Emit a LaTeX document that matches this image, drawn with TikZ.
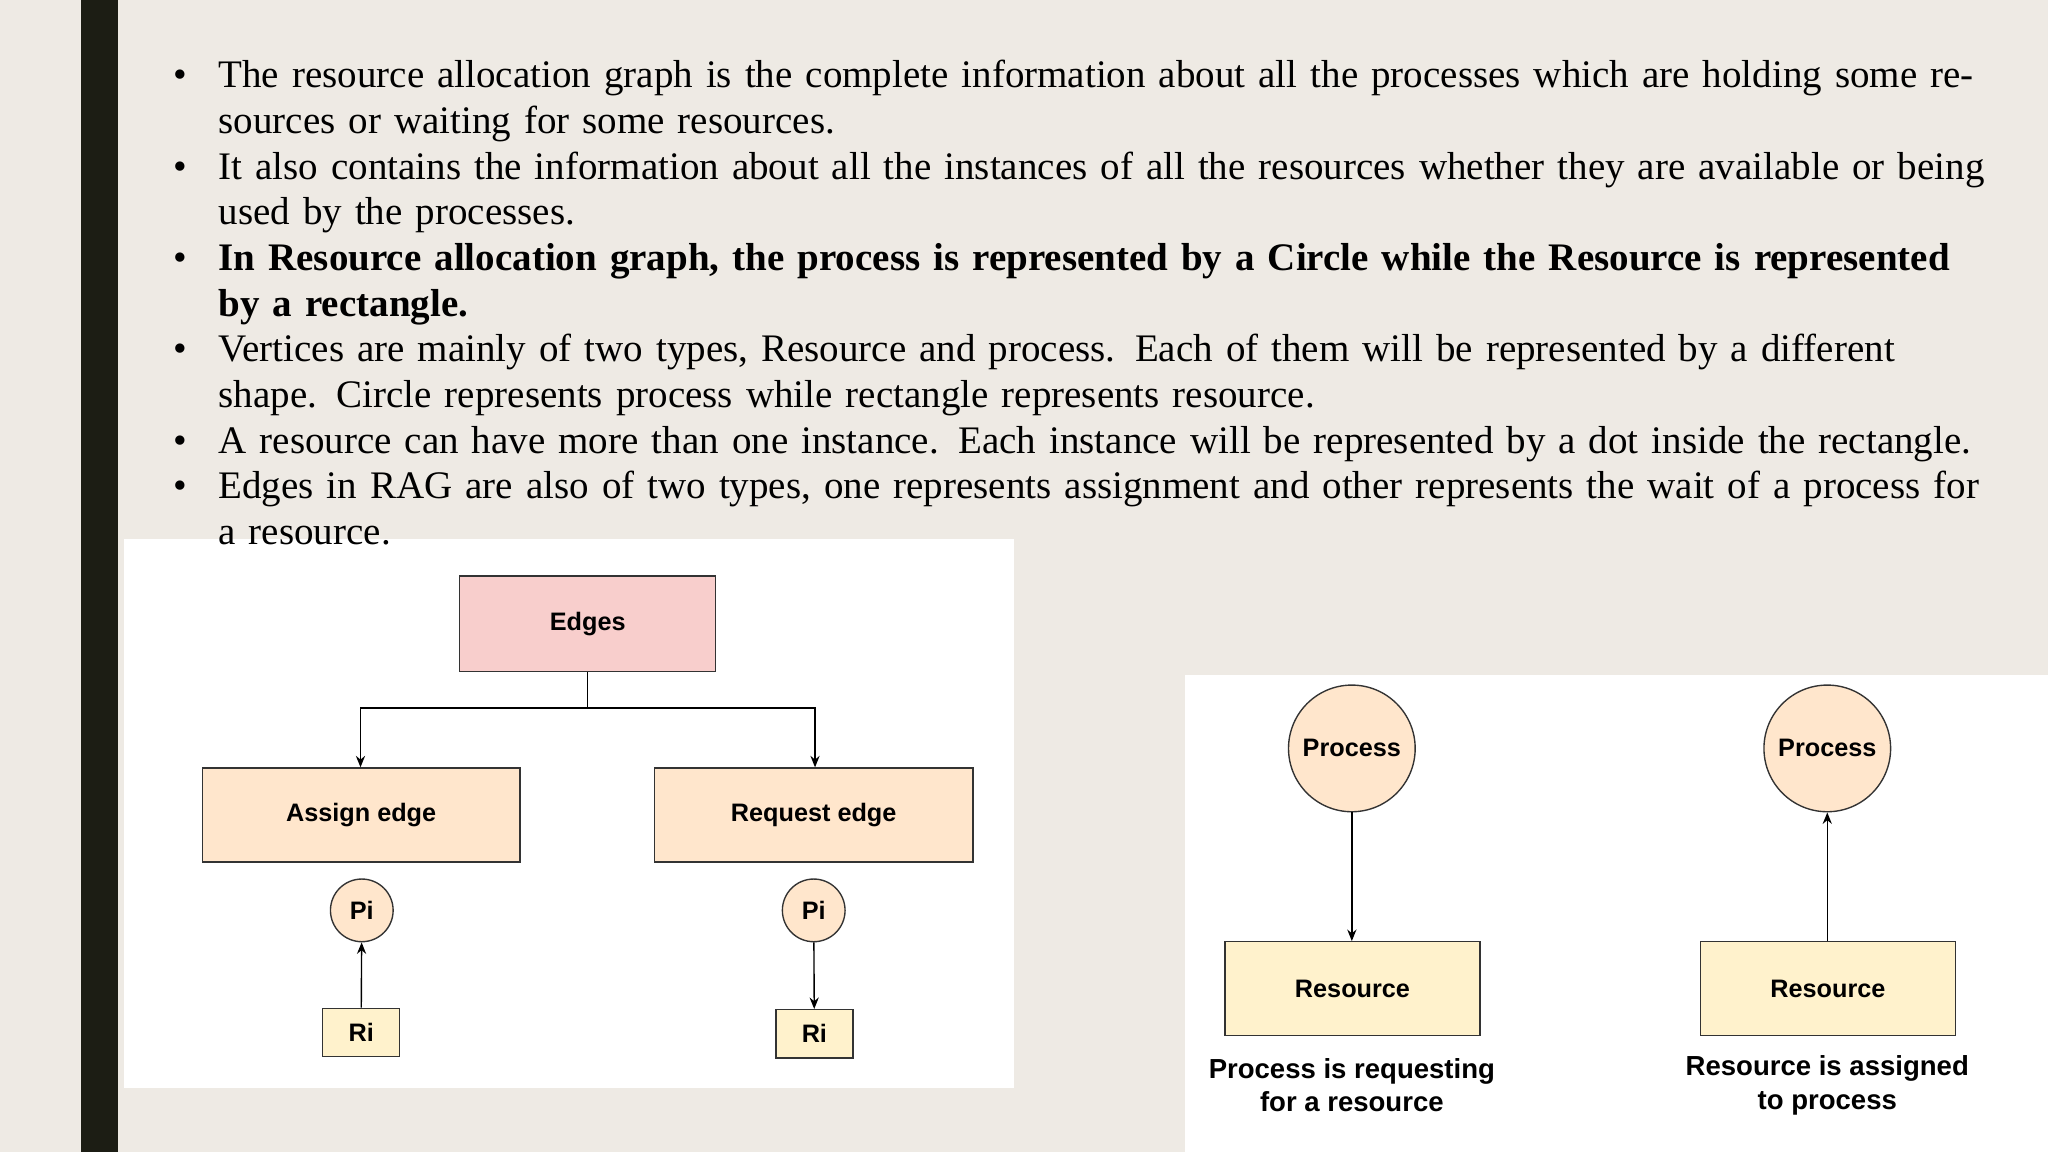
\documentclass[tikz,border=0pt]{standalone}
\usepackage{fontspec}
\setmainfont{Liberation Serif}
\setsansfont{Liberation Sans}
\usetikzlibrary{arrows.meta}
\definecolor{bg}{HTML}{EEEAE4}
\definecolor{bar}{HTML}{1C1D14}
\definecolor{pink}{HTML}{F8CECC}
\definecolor{peach}{HTML}{FFE6CC}
\definecolor{cream}{HTML}{FFF2CC}
\tikzset{
 box/.style={draw=black!80,line width=0.6pt,font=\sffamily\fontsize{11}{13}\selectfont\bfseries},
 circ/.style={circle,draw=black!80,line width=0.6pt,fill=peach,font=\sffamily\fontsize{11}{13}\selectfont\bfseries,inner sep=0pt},
 arr/.style={-{Stealth[length=5pt,width=4pt]},line width=0.6pt},
 captext/.style={font=\sffamily\fontsize{12}{14.5}\selectfont\bfseries,align=center}
}
\begin{document}
\begin{tikzpicture}[x=0.02cm,y=-0.02cm]
\fill[bg] (0,0) rectangle (1568,882);
\useasboundingbox (0,0) rectangle (1568,882);
\fill[bar] (62,0) rectangle (90,882);
\fill[white] (95,413) rectangle (776,833);
\fill[white] (907,517) rectangle (1568,882);
\node[anchor=north west,text width=28.06cm,inner sep=0pt,font=\fontsize{17}{19.9}\selectfont] (txt) at (130,32) {%
\def\bl{\par\noindent\hangindent=0.74cm\hangafter=1\makebox[0.74cm][l]{\kern0.05cm•}}%
\bl The resource allocation graph is the complete information about all the processes which are holding some resources or waiting for some resources.
\bl It also contains the information about all the instances of all the resources whether they are available or being used by the processes.
\bl \textbf{In Resource allocation graph, the process is represented by a Circle while the Resource is represented by a rectangle.}
\bl Vertices are mainly of two types, Resource and process. Each of them will be represented by a different shape. Circle represents process while rectangle represents resource.
\bl A resource can have more than one instance. Each instance will be represented by a dot inside the rectangle.
\bl Edges in RAG are also of two types, one represents assignment and other represents the wait of a process for a resource.\par};
% left diagram
\node[box,fill=pink,minimum width=3.92cm,minimum height=1.46cm] (edges) at (450,477.5) {Edges};
\node[box,fill=peach,minimum width=4.86cm,minimum height=1.44cm] (assign) at (276.5,624) {Assign edge};
\node[box,fill=peach,minimum width=4.88cm,minimum height=1.44cm] (request) at (623,624) {Request edge};
\node[circ,minimum size=0.96cm] (pi1) at (277,697) {Pi};
\node[circ,minimum size=0.96cm] (pi2) at (623,697) {Pi};
\node[box,fill=cream,minimum width=1.18cm,minimum height=0.74cm] (ri1) at (276.5,790.5) {Ri};
\node[box,fill=cream,minimum width=1.18cm,minimum height=0.74cm] (ri2) at (623.5,791.5) {Ri};
\coordinate (j) at (450,542);
\draw[line width=0.6pt] (edges.south) -- (j);
\draw[arr] (j) -| (assign.north -| 276,0);
\draw[arr] (j) -| (request.north -| 624,0);
\draw[arr] (ri1) -- (pi1);
\draw[arr] (pi2) -- (ri2);
% right diagram
\node[circ,minimum size=1.94cm] (p1) at (1035,573) {Process};
\node[circ,minimum size=1.94cm] (p2) at (1399,573) {Process};
\node[box,fill=cream,minimum width=3.9cm,minimum height=1.44cm] (r1) at (1035.5,757) {Resource};
\node[box,fill=cream,minimum width=3.9cm,minimum height=1.44cm] (r2) at (1399.5,757) {Resource};
\draw[arr] (p1) -- (r1.north -| p1);
\draw[arr] (r2.north -| p2) -- (p2);
\node[captext] (c1) at (1035,831) {Process is requesting\\for a resource};
\node[captext] (c2) at (1399,831) {Resource is assigned\\to process};
\end{tikzpicture}
\end{document}
